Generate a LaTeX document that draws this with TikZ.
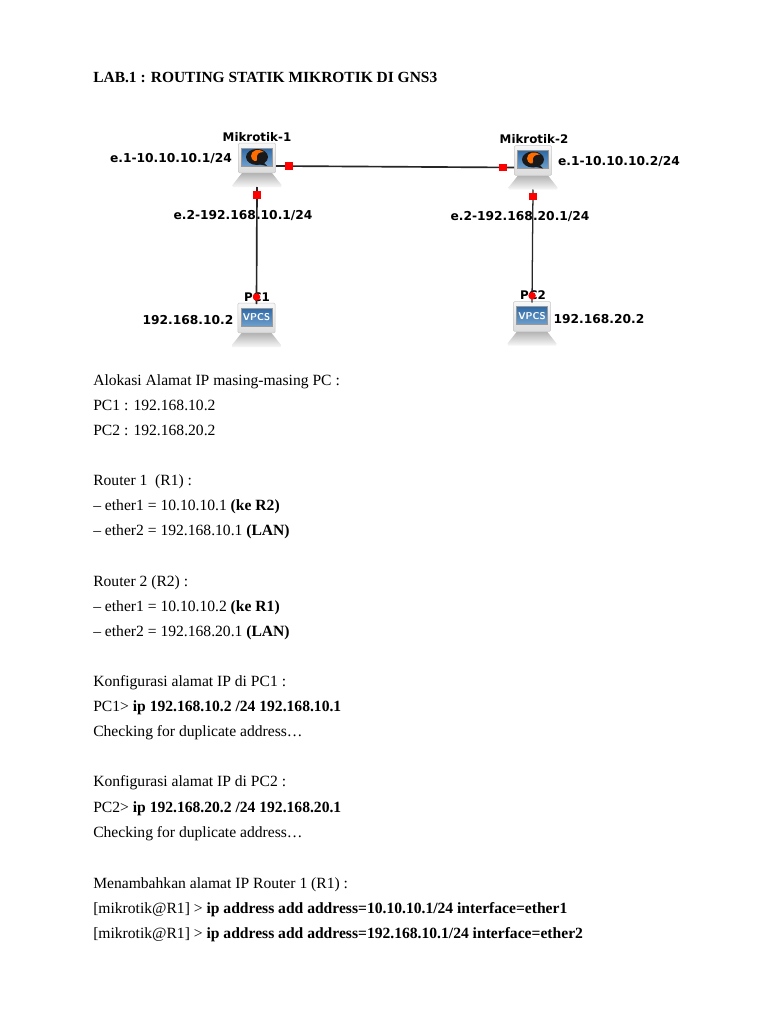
\documentclass[tikz,border=0pt]{standalone}
\usepackage{fontspec}
\setmainfont{Liberation Serif}
\newfontfamily\labelfont{DejaVu Sans}

\definecolor{screenblue}{HTML}{2F6AA6}
\definecolor{screenlight}{HTML}{6F9FCB}
\definecolor{linkgray}{HTML}{262626}

\tikzset{
    x=0.75pt,y=-0.75pt,
    doctext/.style={anchor=base west,inner sep=0pt,font=\fontsize{11.7}{13}\selectfont,text=black},
    netlabel/.style={inner sep=0pt,font=\labelfont\bfseries\fontsize{9.2}{11}\selectfont,text=black},
    hostname/.style={inner sep=0pt,font=\labelfont\bfseries\fontsize{8.9}{11}\selectfont,text=black},
    link/.style={draw=linkgray,line width=1.25pt},
    portsq/.style={fill=red,inner sep=0pt,minimum size=5.6pt},
    portdot/.style={circle,fill=red,inner sep=0pt,minimum size=5.6pt},
    vpcstext/.style={inner sep=0pt,text=white,font=\sffamily\bfseries\fontsize{7.4}{8}\selectfont},
    hostbody/.pic={
        \shade[top color=black!30,bottom color=black!3] (-15,15) -- (15,15) -- (24.5,27) -- (24,29) -- (-24,29) -- (-24.5,27) -- cycle;
        \node[draw=black!22,top color=black!3,bottom color=black!14,rounded corners=1pt,
            minimum width=28pt,minimum height=22.4pt,inner sep=0pt] (-monitor) at (0,0) {};
        \shade[top color=screenblue,bottom color=screenlight,draw=black!40,line width=0.3pt] (-15.5,-10) rectangle (15.5,8);
        \coordinate (-right) at (19,8);
        \coordinate (-left) at (-19,7);
        \coordinate (-bottom) at (0,29);
        \coordinate (-top) at (0,-14);
    },
    routerlogo/.pic={
        \fill[black!90] (0,0) ellipse (11 and 8);
        \fill[black!90] (5,4) -- (10,9) -- (1,7) -- cycle;
        \fill[orange!85!red] (-6,-1) .. controls (-6,-7) and (2,-9) .. (7,-5)
            .. controls (2,-5) and (-1,-3) .. (0,2) .. controls (1,6) and (-6,4) .. (-6,-1);
    }
}

\begin{document}
\begin{tikzpicture}
    \useasboundingbox[fill=white] (0,0) rectangle (768,1024);

    % title
    \node[doctext,font=\fontsize{11.6}{13}\selectfont\bfseries] (title) at (93,83) {LAB.1 : ROUTING STATIK MIKROTIK DI GNS3};

    % hosts
    \pic (mk1) at (257,158) {hostbody};
    \pic (mk2) at (533,160.5) {hostbody};
    \pic (pc1) at (256.5,318) {hostbody};
    \pic (pc2) at (532,316.5) {hostbody};
    \pic at (257,157) {routerlogo};
    \pic at (533,159.5) {routerlogo};
    \node[vpcstext] (pc1screen) at (256.5,317) {VPCS};
    \node[vpcstext] (pc2screen) at (532,316) {VPCS};

    % labels
    \node[hostname] (mk1name) at (257,137) {Mikrotik-1};
    \node[hostname] (mk2name) at (534,139) {Mikrotik-2};
    \node[hostname] (pc1name) at (257,297) {PC1};
    \node[hostname] (pc2name) at (533,295) {PC2};
    \node[netlabel] (mk1e1) at (171,159) {e.1-10.10.10.1/24};
    \node[netlabel] (mk2e1) at (619,162) {e.1-10.10.10.2/24};
    \node[netlabel] (mk1e2) at (243,216) {e.2-192.168.10.1/24};
    \node[netlabel] (mk2e2) at (520,217) {e.2-192.168.20.1/24};
    \node[netlabel] (pc1ip) at (188,320) {192.168.10.2};
    \node[netlabel] (pc2ip) at (599,319) {192.168.20.2};

    % links
    \draw[link] (mk1-right) -- node[portsq,pos=0.054] (sq1) {} node[portsq,pos=0.953] (sq2) {} (mk2-left);
    \draw[link] (mk1-bottom) -- node[portsq,pos=0.07] (sq3) {} node[portdot,pos=0.94] (dot1) {} (pc1-top);
    \draw[link,line width=0.95pt] (mk2-bottom) -- node[portsq,pos=0.06] (sq4) {} node[portdot,pos=0.94] (dot2) {} (pc2-top);

    % text
    \node[doctext] (alokasi) at (93,385) {Alokasi Alamat IP masing-masing PC :};
    \node[doctext] (ippc1) at (93,410) {PC1 : 192.168.10.2};
    \node[doctext] (ippc2) at (93,435) {PC2 : 192.168.20.2};

    \node[doctext] (rone) at (93,485) {Router 1\ \ (R1) :};
    \node[doctext] (roneea) at (93,510) {-- ether1 = 10.10.10.1 \textbf{(ke R2)}};
    \node[doctext] (roneeb) at (93,535) {-- ether2 = 192.168.10.1 \textbf{(LAN)}};

    \node[doctext] (rtwo) at (93,586) {Router 2 (R2) :};
    \node[doctext] (rtwoea) at (93,611) {-- ether1 = 10.10.10.2 \textbf{(ke R1)}};
    \node[doctext] (rtwoeb) at (93,636) {-- ether2 = 192.168.20.1 \textbf{(LAN)}};

    \node[doctext] (konfa) at (93,686) {Konfigurasi alamat IP di PC1 :};
    \node[doctext] (konfacmd) at (93,711) {PC1> \textbf{ip 192.168.10.2 /24 192.168.10.1}};
    \node[doctext] (konfachk) at (93,736) {Checking for duplicate address…};

    \node[doctext] (konfb) at (93,786) {Konfigurasi alamat IP di PC2 :};
    \node[doctext] (konfbcmd) at (93,812) {PC2> \textbf{ip 192.168.20.2 /24 192.168.20.1}};
    \node[doctext] (konfbchk) at (93,837) {Checking for duplicate address…};

    \node[doctext] (tambah) at (93,888) {Menambahkan alamat IP Router 1 (R1) :};
    \node[doctext] (tambaha) at (93,913) {[mikrotik@R1] > \textbf{ip address add address=10.10.10.1/24 interface=ether1}};
    \node[doctext] (tambahb) at (93,938) {[mikrotik@R1] > \textbf{ip address add address=192.168.10.1/24 interface=ether2}};
\end{tikzpicture}
\end{document}
